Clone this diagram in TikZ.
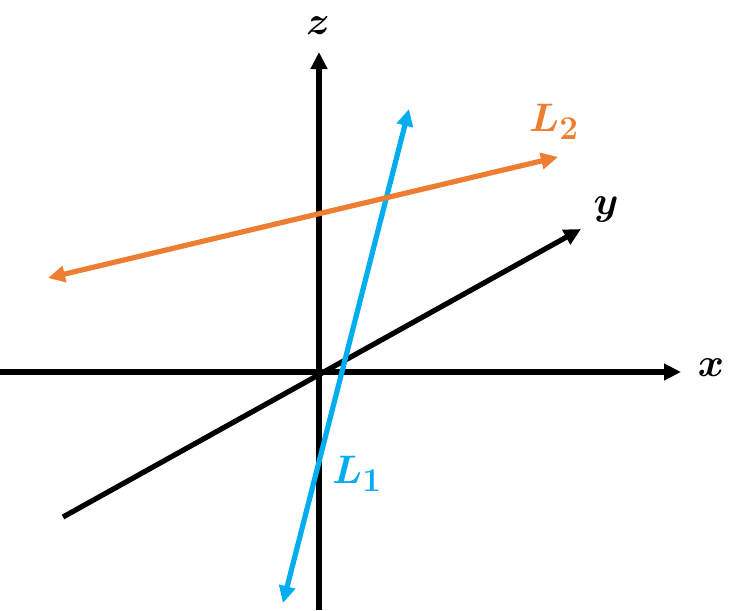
\documentclass[tikz,border=0pt]{standalone}
\usepackage{graphicx}
\usepackage{bm}
\usetikzlibrary{arrows.meta}
\definecolor{lineblue}{RGB}{0,174,239}
\definecolor{lineorange}{RGB}{237,125,49}
\newcommand{\biglbl}[1]{\scalebox{1.6}{\Huge$\bm{#1}$}}
\tikzset{
  axis/.style={line width=5.2pt, black, -{Triangle[length=17pt,width=16pt]}},
  dline/.style={line width=5.2pt, {Triangle[length=17pt,width=16pt]}-{Triangle[length=17pt,width=16pt]}},
  lbl/.style={inner sep=0pt}
}
\begin{document}
\begin{tikzpicture}[x=1pt,y=-1pt]
\useasboundingbox (0,0) rectangle (733,610);
\coordinate (zs) at (319,610);
\coordinate (ze) at (319,52);
\coordinate (xs) at (0,372);
\coordinate (xe) at (681,372);
\coordinate (ys) at (63,517);
\coordinate (ye) at (581,229);
\coordinate (l1a) at (283,603);
\coordinate (l1b) at (409,109);
\coordinate (l2a) at (48,278);
\coordinate (l2b) at (558,157);
\draw[axis] (zs) -- (ze);
\draw[axis] (xs) -- (xe);
\draw[axis] (ys) -- (ye);
\draw[dline, lineblue] (l1a) -- (l1b);
\draw[dline, lineorange] (l2a) -- (l2b);
\node[lbl] (zl) at (318,26) {\biglbl{z}};
\node[lbl] (xl) at (711,368) {\biglbl{x}};
\node[lbl] (yl) at (606,210) {\biglbl{y}};
\node[lbl, text=lineorange] (l2l) at (554,122) {\biglbl{L_2}};
\node[lbl, text=lineblue] (l1l) at (357,474) {\biglbl{L_1}};
\end{tikzpicture}
\end{document}
